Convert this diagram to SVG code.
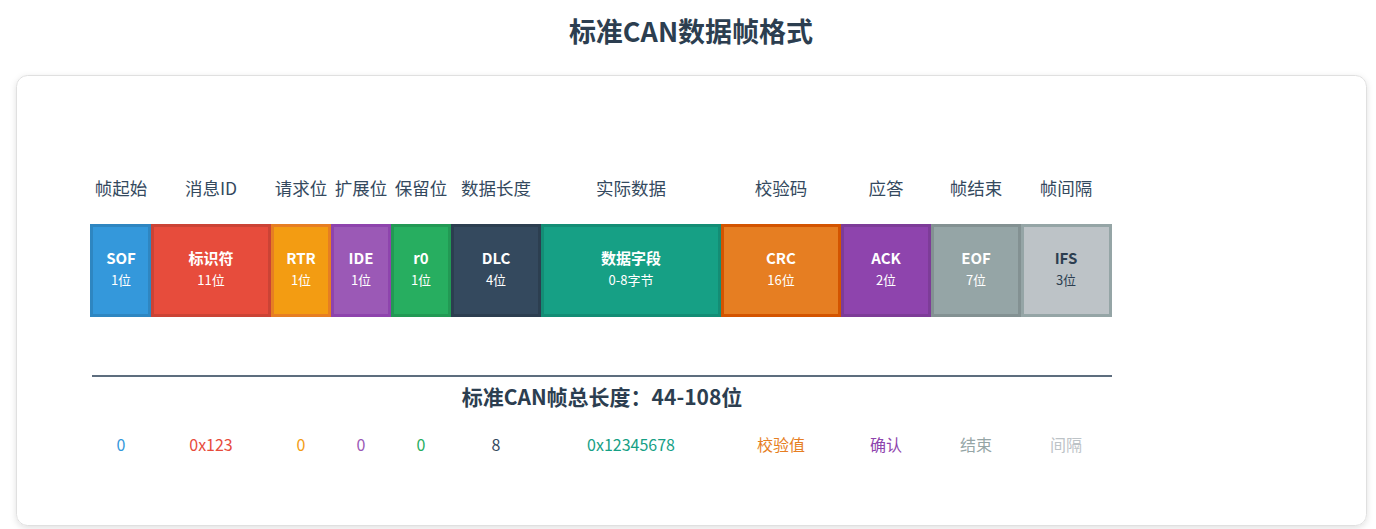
<svg xmlns="http://www.w3.org/2000/svg" width="1376" height="529" viewBox="0 0 1376 529">
<defs>
<filter id="sh" x="-5%" y="-5%" width="110%" height="115%"><feDropShadow dx="0" dy="2" stdDeviation="3" flood-color="#000" flood-opacity="0.12"/></filter>
</defs>
<style>
text{font-family:"Noto Sans CJK SC","Open Sans",sans-serif;text-anchor:middle}
.t{font-size:27px;font-weight:bold;fill:#2c3e50}
.lb{font-size:17.5px;fill:#34495e}
.n{font-size:15px;font-weight:bold;fill:#fff}
.b{font-size:13px;fill:#fff}
.v{font-size:16px}
.tot{font-size:21px;font-weight:bold;fill:#2c3e50}
rect.f{stroke-width:3}
</style>
<rect width="1376" height="529" fill="#fff"/>
<text class="t" x="691" y="42">标准CAN数据帧格式</text>
<rect x="16.5" y="75.5" width="1350" height="450" rx="11" fill="#fff" stroke="#e0e0e0" filter="url(#sh)"/>
<g id="labels">
<text class="lb" x="121" y="195">帧起始</text>
<text class="lb" x="211" y="195">消息ID</text>
<text class="lb" x="301" y="195">请求位</text>
<text class="lb" x="361" y="195">扩展位</text>
<text class="lb" x="421" y="195">保留位</text>
<text class="lb" x="496" y="195">数据长度</text>
<text class="lb" x="631" y="195">实际数据</text>
<text class="lb" x="781" y="195">校验码</text>
<text class="lb" x="886" y="195">应答</text>
<text class="lb" x="976" y="195">帧结束</text>
<text class="lb" x="1066" y="195">帧间隔</text>
</g>
<g id="sof"><rect class="f" x="91.5" y="225.5" width="58" height="90" fill="#3498db" stroke="#2e86c1"/><text class="n" x="121" y="264">SOF</text><text class="b" x="121" y="285">1位</text></g>
<g id="id"><rect class="f" x="152.5" y="225.5" width="117" height="90" fill="#e74c3c" stroke="#cb4335"/><text class="n" x="211" y="264">标识符</text><text class="b" x="211" y="285">11位</text></g>
<g id="rtr"><rect class="f" x="272.5" y="225.5" width="57" height="90" fill="#f39c12" stroke="#e67e22"/><text class="n" x="301" y="264">RTR</text><text class="b" x="301" y="285">1位</text></g>
<g id="ide"><rect class="f" x="332.5" y="225.5" width="57" height="90" fill="#9b59b6" stroke="#8e44ad"/><text class="n" x="361" y="264">IDE</text><text class="b" x="361" y="285">1位</text></g>
<g id="r0"><rect class="f" x="392.5" y="225.5" width="57" height="90" fill="#27ae60" stroke="#229954"/><text class="n" x="421" y="264">r0</text><text class="b" x="421" y="285">1位</text></g>
<g id="dlc"><rect class="f" x="452.5" y="225.5" width="87" height="90" fill="#34495e" stroke="#2c3e50"/><text class="n" x="496" y="264">DLC</text><text class="b" x="496" y="285">4位</text></g>
<g id="data"><rect class="f" x="542.5" y="225.5" width="177" height="90" fill="#16a085" stroke="#138d75"/><text class="n" x="631" y="264">数据字段</text><text class="b" x="631" y="285">0-8字节</text></g>
<g id="crc"><rect class="f" x="722.5" y="225.5" width="117" height="90" fill="#e67e22" stroke="#d35400"/><text class="n" x="781" y="264">CRC</text><text class="b" x="781" y="285">16位</text></g>
<g id="ack"><rect class="f" x="842.5" y="225.5" width="87" height="90" fill="#8e44ad" stroke="#7d3c98"/><text class="n" x="886" y="264">ACK</text><text class="b" x="886" y="285">2位</text></g>
<g id="eof"><rect class="f" x="932.5" y="225.5" width="87" height="90" fill="#95a5a6" stroke="#839192"/><text class="n" x="976" y="264">EOF</text><text class="b" x="976" y="285">7位</text></g>
<g id="ifs"><rect class="f" x="1022.5" y="225.5" width="88" height="90" fill="#bdc3c7" stroke="#95a5a6"/><text class="n" x="1066" y="264" style="fill:#2c3e50">IFS</text><text class="b" x="1066" y="285" style="fill:#2c3e50">3位</text></g>
<g id="connectors">
<line x1="92" y1="376" x2="1112" y2="376" stroke="#5d6d7e" stroke-width="2"/>
</g>
<text class="tot" x="602" y="405">标准CAN帧总长度：44-108位</text>
<g id="values">
<text class="v" x="121" y="451" fill="#3498db">0</text>
<text class="v" x="211" y="451" fill="#e74c3c">0x123</text>
<text class="v" x="301" y="451" fill="#f39c12">0</text>
<text class="v" x="361" y="451" fill="#9b59b6">0</text>
<text class="v" x="421" y="451" fill="#27ae60">0</text>
<text class="v" x="496" y="451" fill="#34495e">8</text>
<text class="v" x="631" y="451" fill="#16a085">0x12345678</text>
<text class="v" x="781" y="451" fill="#e67e22">校验值</text>
<text class="v" x="886" y="451" fill="#8e44ad">确认</text>
<text class="v" x="976" y="451" fill="#95a5a6">结束</text>
<text class="v" x="1066" y="451" fill="#bdc3c7">间隔</text>
</g>
</svg>
